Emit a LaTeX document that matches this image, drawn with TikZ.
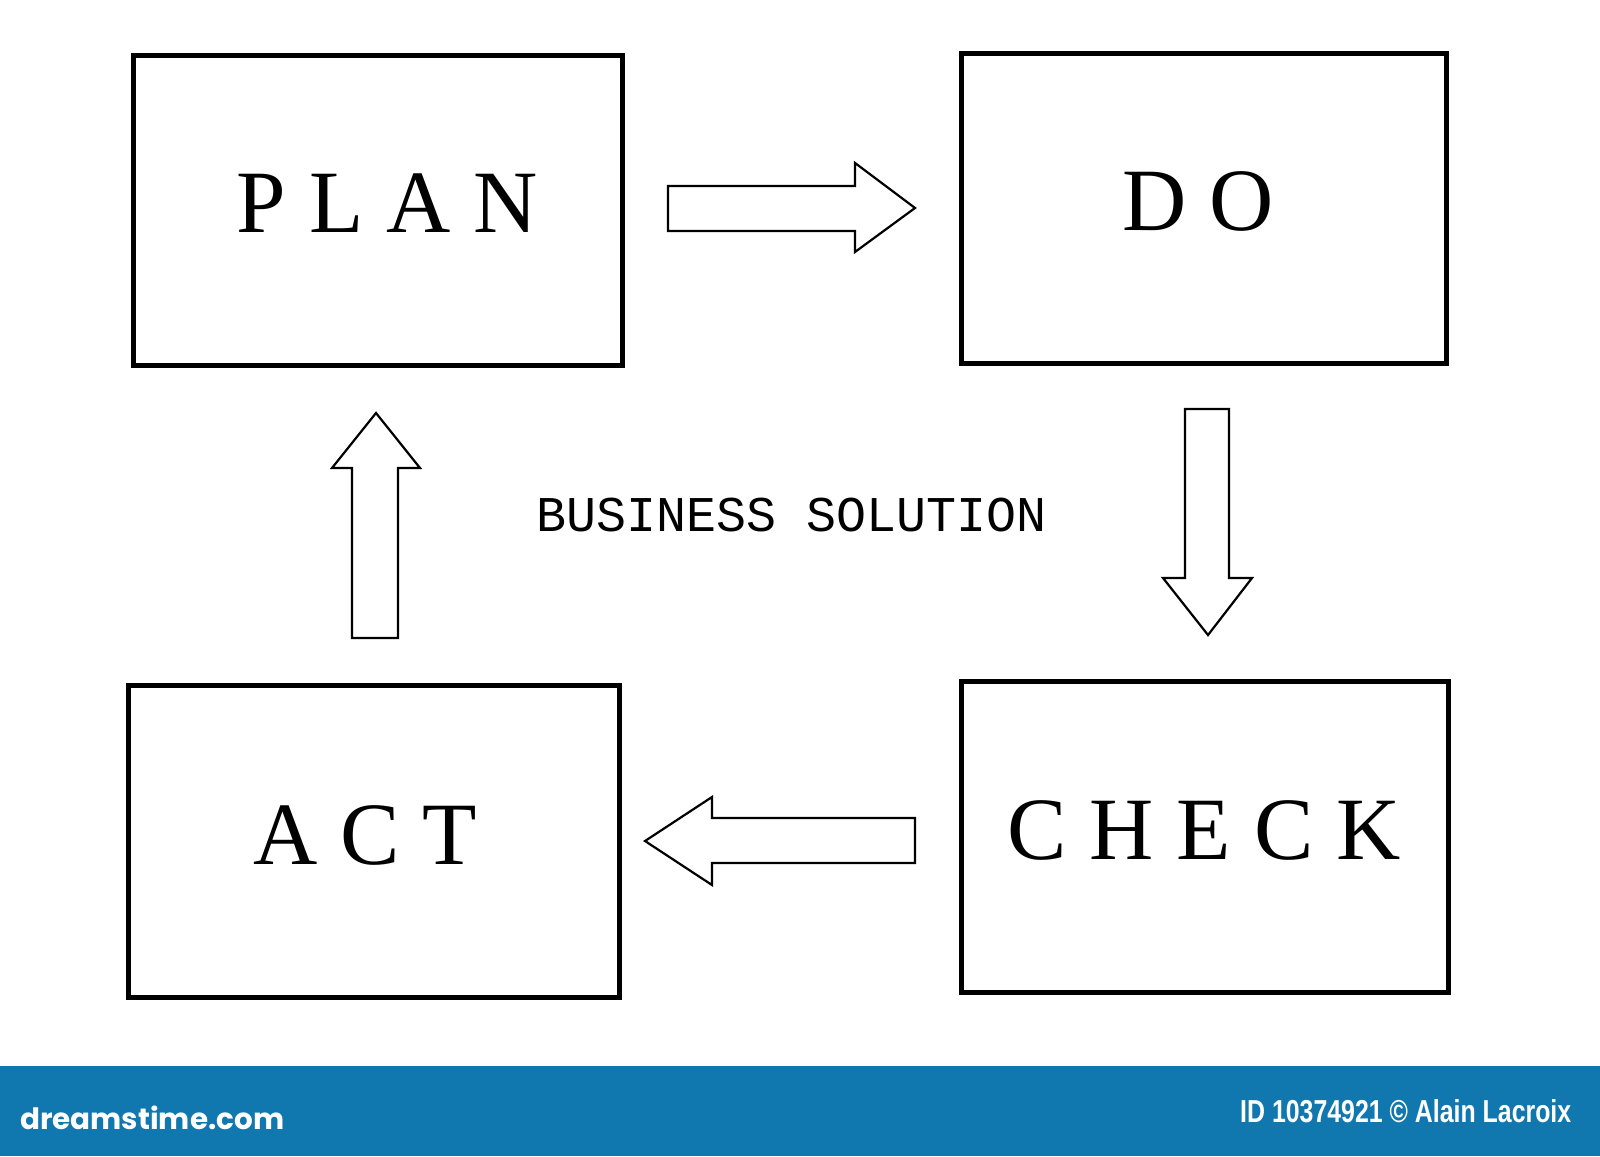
\documentclass[tikz,border=0pt]{standalone}
\usepackage{fontspec}
\usepackage{graphicx}
\setmainfont{Liberation Serif}
\newfontfamily\lblfont{Liberation Serif}
\newfontfamily\bizfont{Liberation Mono}
\newfontfamily\logofont{Poppins}
\newfontfamily\idfont{Liberation Sans}
\definecolor{bannerblue}{RGB}{16,119,175}
\newcommand{\lgap}{\kern23pt}
\begin{document}
\begin{tikzpicture}[x=1pt,y=-1pt,
  box/.style={draw=black, line width=5pt, inner sep=0pt},
  blockarrow/.style={draw=black, line width=2.2pt, line join=miter, fill=white},
  lbl/.style={font=\lblfont\fontsize{89}{89}\selectfont, inner sep=0pt, anchor=base}]
\useasboundingbox (0,0) rectangle (1600,1156);
\fill[white] (0,0) rectangle (1600,1156);

% boxes
\node[box, minimum width=489pt, minimum height=309pt] (plan)  at (377.5,210.5) {};
\node[box, minimum width=485pt, minimum height=310pt] (do)    at (1204,208.5) {};
\node[box, minimum width=487pt, minimum height=311pt] (check) at (1205,837) {};
\node[box, minimum width=491pt, minimum height=312pt] (act)   at (374,841.5) {};

% labels
\node[lbl] (plantext)  at (387.5,232) {P\lgap L\lgap A\lgap N};
\node[lbl] (dotext)    at (1198,230)  {D\lgap O};
\node[lbl] (checktext) at (1204,859)  {C\lgap H\lgap E\lgap C\lgap K};
\node[lbl] (acttext)   at (365,864)   {A\lgap C\lgap T};

% block arrows
\draw[blockarrow] (668,186) -- (855,186) -- (855,163) -- (915,208) -- (855,252) -- (855,231) -- (668,231) -- cycle;
\draw[blockarrow] (1185,409) -- (1229,409) -- (1229,578) -- (1252,578) -- (1208,635) -- (1163,578) -- (1185,578) -- cycle;
\draw[blockarrow] (915,818) -- (915,863) -- (712,863) -- (712,885) -- (645,841) -- (712,797) -- (712,818) -- cycle;
\draw[blockarrow] (352,638) -- (352,468) -- (332,468) -- (376,413) -- (420,468) -- (398,468) -- (398,638) -- cycle;

% centre text
\node[font=\bizfont\fontsize{50}{50}\selectfont, anchor=base, inner sep=0pt] (biz) at (792,531) {BUSINESS SOLUTION};

% banner
\fill[bannerblue] (0,1066) rectangle (1600,1156);
\node[anchor=base west, inner sep=0pt, text=white] (logo) at (20,1129)
  {\resizebox{264pt}{!}{\logofont\bfseries\fontsize{38}{38}\selectfont dreamstime.com}};
\node[anchor=base west, inner sep=0pt, text=white] (credit) at (1240,1122)
  {\resizebox{331pt}{23pt}{\idfont\bfseries ID 10374921 © Alain Lacroix}};
\end{tikzpicture}
\end{document}
